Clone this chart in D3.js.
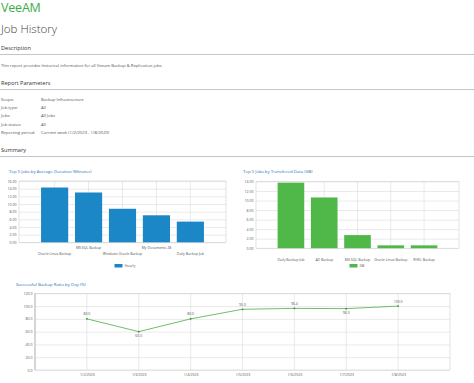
<!DOCTYPE html>
<html>
<head>
<meta charset="utf-8">
<script src="https://cdn.jsdelivr.net/npm/d3@7"></script>
<style>
  body { margin: 0; background: #fff; }
  svg { display: block; font-family: "Open Sans", sans-serif; }
</style>
</head>
<body>
<div id="container"></div>
<script>
const durationJobs = ["Oracle Linux Backup", "MS SQL Backup", "Windows Oracle Backup", "My Documents 28", "Daily Backup Job"]
const durationValues = [14.3, 13.0, 8.75, 7.05, 5.4]
const durationTicks = [0, 2, 4, 6, 8, 10, 12, 14, 16]

const dataJobs = ["Daily Backup Job", "AD Backup", "MS SQL Backup", "Oracle Linux Backup", "RHEL Backup"]
const dataValues = [13.75, 10.65, 2.75, 0.6, 0.6]
const dataTicks = [0, 2, 4, 6, 8, 10, 12, 14]

const days = ["1/2/2023", "1/3/2023", "1/4/2023", "1/5/2023", "1/6/2023", "1/7/2023", "1/8/2023"]
const ratioValues = [80.0, 60.0, 80.0, 95.0, 96.4, 96.0, 100.0]
const ratioLabelBelow = [false, true, false, false, false, true, false]
const ratioTicks = [0, 20, 40, 60, 80, 100, 120]

const paramNames = ["Scope:", "Job type:", "Jobs:", "Job status:", "Reporting period:"]
const paramValues = ["Backup Infrastructure", "All", "All Jobs", "All", "Current week (1/2/2023 - 1/8/2023)"]

const width = 474
const height = 383
const blue = "#1b87c6"
const green = "#4fb848"
const gridColor = "#dcdcdc"
const textColor = "#555"
const smallFont = 3.5

const svg = d3.select("#container").append("svg")
    .attr("width", width)
    .attr("height", height)

// header
svg.append("text")
    .attr("x", 1).attr("y", 11.5)
    .attr("fill", "#3aad48")
    .attr("font-size", 12.5)
    .attr("font-weight", 400)
    .attr("letter-spacing", -0.2)
    .text("VeeAM")

svg.append("text")
    .attr("x", 1).attr("y", 33)
    .attr("fill", "#444")
    .attr("font-size", 11.5)
    .attr("font-weight", 300)
    .text("Job History")

function section(title, y){
    svg.append("text")
        .attr("x", 1).attr("y", y)
        .attr("fill", "#333")
        .attr("font-size", 5.6)
        .text(title)
    svg.append("line")
        .attr("x1", 0).attr("x2", width)
        .attr("y1", y + 4.5).attr("y2", y + 4.5)
        .attr("stroke", "#bcc7cf")
        .attr("stroke-width", 1)
}

section("Description", 50)
svg.append("text")
    .attr("x", 1).attr("y", 66.5)
    .attr("fill", textColor)
    .attr("font-size", 4.2)
    .text("This report provides historical information for all Veeam Backup & Replication jobs.")

section("Report Parameters", 85)
paramNames.forEach((name, i) => {
    const y = 100.5 + i * 8.4
    svg.append("text").attr("x", 1).attr("y", y)
        .attr("fill", textColor).attr("font-size", 4.2).text(name)
    svg.append("text").attr("x", 41).attr("y", y)
        .attr("fill", textColor).attr("font-size", 4.2).text(paramValues[i])
})

section("Summary", 152)

function chartTitle(text, x, y){
    svg.append("text")
        .attr("x", x).attr("y", y)
        .attr("fill", "#2a6fb0")
        .attr("font-size", 4.3)
        .text(text)
}

function styleAxis(g){
    g.select(".domain").remove()
    g.selectAll("text").attr("fill", textColor).attr("font-size", smallFont).attr("font-family", "Open Sans, sans-serif")
}

function barChart(opts){
    const {jobs, values, ticks, color, x0, x1, y0, y1, title, legend, stagger} = opts
    const g = svg.append("g")
    chartTitle(title, opts.titleX, opts.titleY)

    const x = d3.scaleBand().domain(jobs).range([x0, x1]).paddingInner(0.2).paddingOuter(0.65)
    const y = d3.scaleLinear().domain([0, d3.max(ticks)]).range([y1, y0])

    // horizontal grid
    g.append("g")
        .attr("transform", `translate(${x0},0)`)
        .call(d3.axisLeft(y).tickValues(ticks).tickSize(-(x1 - x0)).tickFormat(""))
        .call(a => a.select(".domain").remove())
        .selectAll("line").attr("stroke", gridColor).attr("stroke-width", 0.6)

    // vertical grid at category centers
    g.selectAll(".vgrid")
        .data(jobs)
        .join("line")
        .attr("x1", d => x(d) + x.bandwidth() / 2)
        .attr("x2", d => x(d) + x.bandwidth() / 2)
        .attr("y1", y0).attr("y2", y1)
        .attr("stroke", gridColor).attr("stroke-width", 0.6)

    g.append("rect")
        .attr("x", x0).attr("y", y0)
        .attr("width", x1 - x0).attr("height", y1 - y0)
        .attr("fill", "none").attr("stroke", "#cfcfcf").attr("stroke-width", 0.6)

    g.selectAll(".bar")
        .data(values)
        .join("rect")
        .attr("x", (d, i) => x(jobs[i]))
        .attr("y", d => y(d))
        .attr("width", x.bandwidth())
        .attr("height", d => y(0) - y(d))
        .attr("fill", color)

    g.append("g")
        .attr("transform", `translate(${x0 - 1},0)`)
        .call(d3.axisLeft(y).tickValues(ticks).tickSize(0).tickPadding(1.5).tickFormat(d3.format(".2f")))
        .call(styleAxis)

    g.selectAll(".xlabel")
        .data(jobs)
        .join("text")
        .attr("x", d => x(d) + x.bandwidth() / 2)
        .attr("y", (d, i) => stagger && i % 2 === 1 ? y1 + 7 : y1 + 12.5)
        .attr("text-anchor", "middle")
        .attr("fill", textColor)
        .attr("font-size", smallFont)
        .text(d => d)

    const lx = (x0 + x1) / 2 - 8
    g.append("rect")
        .attr("x", lx).attr("y", opts.legendY - 2)
        .attr("width", 8).attr("height", 3.5)
        .attr("fill", color)
    g.append("text")
        .attr("x", lx + 10).attr("y", opts.legendY + 1.3)
        .attr("fill", textColor).attr("font-size", smallFont)
        .text(legend)
}

barChart({
    jobs: durationJobs, values: durationValues, ticks: durationTicks, color: blue,
    x0: 19, x1: 226, y0: 181, y1: 242.3, stagger: true,
    title: "Top 5 Jobs by Average Duration (Minutes)", titleX: 9, titleY: 172.5,
    legend: "Hourly", legendY: 266
})

barChart({
    jobs: dataJobs, values: dataValues, ticks: dataTicks, color: green,
    x0: 256, x1: 459, y0: 181.5, y1: 248.2, stagger: false,
    title: "Top 5 Jobs by Transfered Data (GB)", titleX: 243, titleY: 172.5,
    legend: "GB", legendY: 266
})

// line chart
{
    const x0 = 35, x1 = 450, y0 = 293.3, y1 = 370
    const g = svg.append("g")
    chartTitle("Successful Backup Ratio by Day (%)", 16, 285.5)

    const x = d3.scalePoint().domain(days).range([x0, x1]).padding(1)
    const y = d3.scaleLinear().domain([0, d3.max(ratioTicks)]).range([y1, y0])

    g.append("g")
        .attr("transform", `translate(${x0},0)`)
        .call(d3.axisLeft(y).tickValues(ratioTicks).tickSize(-(x1 - x0)).tickFormat(""))
        .call(a => a.select(".domain").remove())
        .selectAll("line").attr("stroke", gridColor).attr("stroke-width", 0.6)

    g.selectAll(".vgrid")
        .data(days)
        .join("line")
        .attr("x1", d => x(d)).attr("x2", d => x(d))
        .attr("y1", y0).attr("y2", y1)
        .attr("stroke", gridColor).attr("stroke-width", 0.6)

    g.append("rect")
        .attr("x", x0).attr("y", y0)
        .attr("width", x1 - x0).attr("height", y1 - y0)
        .attr("fill", "none").attr("stroke", "#cfcfcf").attr("stroke-width", 0.6)

    g.append("line")
        .attr("x1", x0).attr("x2", x0).attr("y1", y0).attr("y2", y1)
        .attr("stroke", "#999").attr("stroke-width", 0.6)

    g.append("g")
        .attr("transform", `translate(${x0 - 1},0)`)
        .call(d3.axisLeft(y).tickValues(ratioTicks).tickSize(0).tickPadding(1.5).tickFormat(d3.format(".1f")))
        .call(styleAxis)

    g.append("g")
        .attr("transform", `translate(0,${y1})`)
        .call(d3.axisBottom(x).tickSize(0).tickPadding(3.5))
        .call(styleAxis)

    const line = d3.line()
        .x((d, i) => x(days[i]))
        .y(d => y(d))

    g.append("path")
        .datum(ratioValues)
        .attr("d", line)
        .attr("fill", "none")
        .attr("stroke", "#5cb85c")
        .attr("stroke-width", 0.9)

    g.selectAll(".pt")
        .data(ratioValues)
        .join("circle")
        .attr("cx", (d, i) => x(days[i]))
        .attr("cy", d => y(d))
        .attr("r", 0.9)
        .attr("fill", "#3d8b3d")

    g.selectAll(".lbl")
        .data(ratioValues)
        .join("text")
        .attr("x", (d, i) => x(days[i]))
        .attr("y", (d, i) => ratioLabelBelow[i] ? y(d) + 5.5 : y(d) - 3.5)
        .attr("text-anchor", "middle")
        .attr("fill", textColor)
        .attr("font-size", smallFont)
        .text(d => d3.format(".1f")(d))
}
</script>
</body>
</html>
